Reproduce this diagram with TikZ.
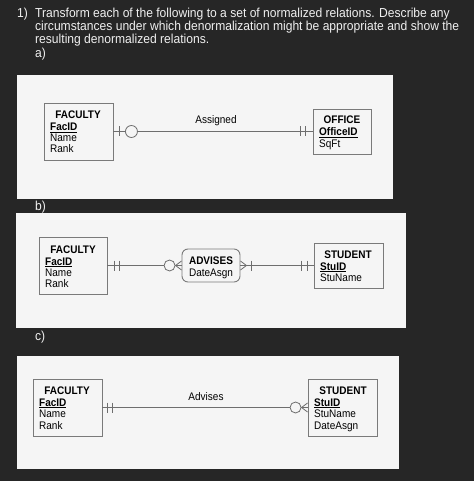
\documentclass[tikz,border=0pt]{standalone}
\usepackage{fontspec}
\usepackage{graphicx}
\setmainfont{Liberation Sans}
\usetikzlibrary{calc}
\definecolor{bgdark}{HTML}{262626}
\definecolor{panelc}{HTML}{F5F5F5}
\definecolor{edgec}{HTML}{7A7A7A}
\definecolor{linec}{HTML}{6E6E6E}
\definecolor{titlec}{HTML}{F0F0F0}
\newcommand{\sx}[1]{\scalebox{0.91}[1]{#1}}
\newcommand{\tx}[1]{\scalebox{0.93}[1]{#1}}
\tikzset{
  ent/.style={draw=edgec, line width=0.9pt, fill=panelc, inner sep=0pt},
  txt/.style={inner sep=0pt, text=black, font=\fontsize{11}{13}\selectfont},
  ttl/.style={inner sep=0pt, text=titlec, font=\fontsize{13}{15}\selectfont, anchor=base west},
  conn/.style={draw=linec, line width=0.8pt},
  ring/.style={draw=linec, line width=0.8pt, fill=panelc}
}
\begin{document}
\begin{tikzpicture}[x=1pt,y=-1pt]
\useasboundingbox (0,0) rectangle (474,481);
\fill[bgdark] (0,0) rectangle (474,481);
% title
\node[ttl] (t0) at (17,17.3) {\tx{1)}};
\node[ttl] (t1) at (35,17.3) {\tx{Transform each of the following to a set of normalized relations. Describe any}};
\node[ttl] (t2) at (35,30.6) {\tx{circumstances under which denormalization might be appropriate and show the}};
\node[ttl] (t3) at (35,44) {\tx{resulting denormalized relations.}};
\node[ttl] (la) at (35,57.3) {\tx{a)}};
% panels
\fill[panelc] (17,75) rectangle (393,199);
\node[ttl] (lb) at (35,210) {\tx{b)}};
\fill[panelc] (16,213) rectangle (406,328);
\node[ttl] (lc) at (35,340) {\tx{c)}};
\fill[panelc] (17,356) rectangle (399,469);

% ---------- panel a ----------
\node[ent, minimum width=69pt, minimum height=57pt] (facA) at (78.5,131.5) {};
\node[txt, anchor=base] (facAh) at (78,119) {\bfseries\sx{FACULTY}};
\node[txt, anchor=base west] (facA1) at (50,130.3) {\bfseries\sx{\underline{FacID}}};
\node[txt, anchor=base west] (facA2) at (50,141.6) {\sx{Name}};
\node[txt, anchor=base west] (facA3) at (50,153) {\sx{Rank}};
\node[ent, minimum width=58pt, minimum height=45pt] (offA) at (342,131.5) {};
\node[txt, anchor=base] (offAh) at (342,124) {\bfseries\sx{OFFICE}};
\node[txt, anchor=base west] (offA1) at (319,135.5) {\bfseries\sx{\underline{OfficeID}}};
\node[txt, anchor=base west] (offA2) at (319,147) {\sx{SqFt}};
\draw[conn] (facA.east) -- (offA.west);
\node[txt, anchor=base] (asg) at (216,124) {\sx{Assigned}};
\draw[conn] ([xshift=6pt,yshift=5pt]facA.east) -- ([xshift=6pt,yshift=-5pt]facA.east);
\draw[ring] ([xshift=18pt]facA.east) circle (6pt);
\draw[conn] ([xshift=-12pt,yshift=5pt]offA.west) -- ([xshift=-12pt,yshift=-5pt]offA.west);
\draw[conn] ([xshift=-7pt,yshift=5pt]offA.west) -- ([xshift=-7pt,yshift=-5pt]offA.west);

% ---------- panel b ----------
\node[ent, minimum width=68pt, minimum height=57pt] (facB) at (73,265.5) {};
\node[txt, anchor=base] (facBh) at (73,253) {\bfseries\sx{FACULTY}};
\node[txt, anchor=base west] (facB1) at (45,265) {\bfseries\sx{\underline{FacID}}};
\node[txt, anchor=base west] (facB2) at (45,276) {\sx{Name}};
\node[txt, anchor=base west] (facB3) at (45,287.5) {\sx{Rank}};
\node[ent, rounded corners=6pt, minimum width=58pt, minimum height=33pt] (advB) at (211,265.5) {};
\node[txt, anchor=base] (advBh) at (211,264) {\bfseries\sx{ADVISES}};
\node[txt, anchor=base] (advB1) at (211,276) {\sx{DateAsgn}};
\node[ent, minimum width=69pt, minimum height=45pt] (stuB) at (348.5,265.5) {};
\node[txt, anchor=base] (stuBh) at (348,258) {\bfseries\sx{STUDENT}};
\node[txt, anchor=base west] (stuB1) at (320,270) {\bfseries\sx{\underline{StuID}}};
\node[txt, anchor=base west] (stuB2) at (320,281.5) {\sx{StuName}};
\draw[conn] (facB.east) -- (advB.west);
\draw[conn] (advB.east) -- (stuB.west);
\draw[conn] ([xshift=7pt,yshift=5pt]facB.east) -- ([xshift=7pt,yshift=-5pt]facB.east);
\draw[conn] ([xshift=12pt,yshift=5pt]facB.east) -- ([xshift=12pt,yshift=-5pt]facB.east);
\draw[ring] ([xshift=-12pt]advB.west) circle (5.5pt);
\draw[conn] ([yshift=4.5pt]advB.west) -- ([xshift=-6pt]advB.west) -- ([yshift=-4.5pt]advB.west);
\draw[conn] ([yshift=4.5pt]advB.east) -- ([xshift=6pt]advB.east) -- ([yshift=-4.5pt]advB.east);
\draw[conn] ([xshift=11pt,yshift=5pt]advB.east) -- ([xshift=11pt,yshift=-5pt]advB.east);
\draw[conn] ([xshift=-12pt,yshift=5pt]stuB.west) -- ([xshift=-12pt,yshift=-5pt]stuB.west);
\draw[conn] ([xshift=-6pt,yshift=5pt]stuB.west) -- ([xshift=-6pt,yshift=-5pt]stuB.west);

% ---------- panel c ----------
\node[ent, minimum width=69pt, minimum height=57pt] (facC) at (67.5,407.5) {};
\node[txt, anchor=base] (facCh) at (67,394) {\bfseries\sx{FACULTY}};
\node[txt, anchor=base west] (facC1) at (39,406) {\bfseries\sx{\underline{FacID}}};
\node[txt, anchor=base west] (facC2) at (39,417.5) {\sx{Name}};
\node[txt, anchor=base west] (facC3) at (39,429) {\sx{Rank}};
\node[ent, minimum width=69pt, minimum height=57pt] (stuC) at (342.5,407.5) {};
\node[txt, anchor=base] (stuCh) at (343,394) {\bfseries\sx{STUDENT}};
\node[txt, anchor=base west] (stuC1) at (314,406) {\bfseries\sx{\underline{StuID}}};
\node[txt, anchor=base west] (stuC2) at (314,417.5) {\sx{StuName}};
\node[txt, anchor=base west] (stuC3) at (314,429) {\sx{DateAsgn}};
\draw[conn] (facC.east) -- (stuC.west);
\node[txt, anchor=base] (adv) at (206,400) {\sx{Advises}};
\draw[conn] ([xshift=5pt,yshift=5pt]facC.east) -- ([xshift=5pt,yshift=-5pt]facC.east);
\draw[conn] ([xshift=10pt,yshift=5pt]facC.east) -- ([xshift=10pt,yshift=-5pt]facC.east);
\draw[ring] ([xshift=-12pt]stuC.west) circle (5.5pt);
\draw[conn] ([yshift=4.5pt]stuC.west) -- ([xshift=-6pt]stuC.west) -- ([yshift=-4.5pt]stuC.west);
\end{tikzpicture}
\end{document}
